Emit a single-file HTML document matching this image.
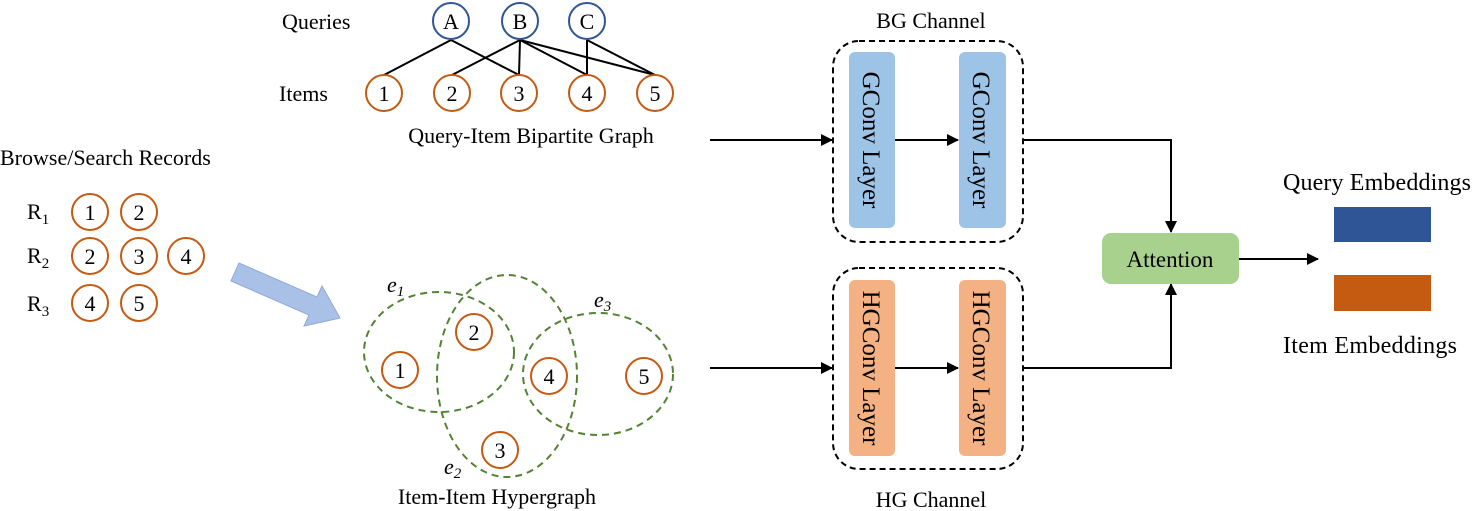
<!DOCTYPE html>
<html><head><meta charset="utf-8"><style>
html,body{margin:0;padding:0;background:#fff}
svg{display:block}
text{font-family:"Liberation Serif",serif;fill:#000}
</style></head><body>
<svg width="1476" height="511" viewBox="0 0 1476 511" xmlns="http://www.w3.org/2000/svg">
<defs>
<marker id="ah" markerWidth="12" markerHeight="12" refX="11" refY="6" orient="auto" markerUnits="userSpaceOnUse">
<path d="M0,0 L12,6 L0,12 z" fill="#000"/>
</marker>
</defs>
<g font-size="22">
<!-- Bipartite graph -->
<text x="282" y="29">Queries</text>
<text x="279" y="101">Items</text>
<g stroke="#000" stroke-width="2">
<line x1="451" y1="40" x2="384" y2="75"/>
<line x1="451" y1="40" x2="519" y2="75"/>
<line x1="520" y1="40" x2="452" y2="75"/>
<line x1="520" y1="40" x2="519" y2="75"/>
<line x1="520" y1="40" x2="587" y2="75"/>
<line x1="520" y1="40" x2="655" y2="75"/>
<line x1="587" y1="40" x2="587" y2="75"/>
<line x1="587" y1="40" x2="655" y2="75"/>
</g>
<g fill="#fff" stroke="#2f5597" stroke-width="2">
<circle cx="451" cy="21" r="18"/><circle cx="520" cy="21" r="18"/><circle cx="587" cy="21" r="18"/>
</g>
<g fill="#fff" stroke="#c55a11" stroke-width="2">
<circle cx="384" cy="93" r="18"/><circle cx="452" cy="93" r="18"/><circle cx="519" cy="93" r="18"/><circle cx="587" cy="93" r="18"/><circle cx="655" cy="93" r="18"/>
</g>
<g text-anchor="middle">
<text x="451" y="29">A</text><text x="520" y="29">B</text><text x="587" y="29">C</text>
<text x="384" y="101">1</text><text x="452" y="101">2</text><text x="519" y="101">3</text><text x="587" y="101">4</text><text x="655" y="101">5</text>
<text x="531" y="143">Query-Item Bipartite Graph</text>
</g>

<!-- Records -->
<text x="0" y="165">Browse/Search Records</text>
<text x="27" y="219">R<tspan font-size="15" dy="5">1</tspan></text>
<text x="27" y="263">R<tspan font-size="15" dy="5">2</tspan></text>
<text x="27" y="311">R<tspan font-size="15" dy="5">3</tspan></text>
<g fill="#fff" stroke="#c55a11" stroke-width="2">
<circle cx="90" cy="212" r="18"/><circle cx="139" cy="212" r="18"/>
<circle cx="90" cy="256" r="18"/><circle cx="139" cy="256" r="18"/><circle cx="186" cy="256" r="18"/>
<circle cx="90" cy="303" r="18"/><circle cx="139" cy="303" r="18"/>
</g>
<g text-anchor="middle">
<text x="90" y="220">1</text><text x="139" y="220">2</text>
<text x="90" y="264">2</text><text x="139" y="264">3</text><text x="186" y="264">4</text>
<text x="90" y="311">4</text><text x="139" y="311">5</text>
</g>
<polygon points="231,281 239,263 317,297 322,286 340,318 304,326 309,315" fill="#a9c1e6" stroke="#8faadc" stroke-width="1"/>

<!-- Hypergraph -->
<g fill="none" stroke="#548235" stroke-width="2" stroke-dasharray="7,5">
<ellipse cx="439" cy="352" rx="75" ry="60"/>
<ellipse cx="507" cy="376" rx="70" ry="101"/>
<ellipse cx="598" cy="374" rx="75" ry="61"/>
</g>
<g fill="#fff" stroke="#c55a11" stroke-width="2">
<circle cx="400" cy="370" r="18"/><circle cx="474" cy="332" r="18"/><circle cx="500" cy="450" r="18"/><circle cx="549" cy="376" r="18"/><circle cx="644" cy="376" r="18"/>
</g>
<g text-anchor="middle">
<text x="400" y="378">1</text><text x="474" y="340">2</text><text x="500" y="458">3</text><text x="549" y="384">4</text><text x="644" y="384">5</text>
<text x="497" y="504">Item-Item  Hypergraph</text>
</g>
<text x="387" y="292" font-style="italic">e<tspan font-size="15" dy="4">1</tspan></text>
<text x="594" y="307" font-style="italic">e<tspan font-size="15" dy="4">3</tspan></text>
<text x="444" y="474" font-style="italic">e<tspan font-size="15" dy="4">2</tspan></text>

<!-- Channels -->
<text x="931" y="28" text-anchor="middle">BG Channel</text>
<text x="931" y="507" text-anchor="middle">HG Channel</text>
<rect x="833" y="41" width="190" height="201" rx="26" fill="none" stroke="#000" stroke-width="2" stroke-dasharray="6,4"/>
<rect x="833" y="268" width="190" height="201" rx="26" fill="none" stroke="#000" stroke-width="2" stroke-dasharray="6,4"/>
<rect x="849" y="52" width="46" height="176" rx="6" fill="#9dc3e6"/>
<rect x="959" y="52" width="47" height="176" rx="6" fill="#9dc3e6"/>
<rect x="849" y="280" width="46" height="176" rx="6" fill="#f4b183"/>
<rect x="959" y="280" width="47" height="176" rx="6" fill="#f4b183"/>
<g font-size="25" text-anchor="middle">
<text transform="translate(872,140) rotate(90)" y="9">GConv Layer</text>
<text transform="translate(982,140) rotate(90)" y="9">GConv Layer</text>
<text transform="translate(872,368) rotate(90)" y="9">HGConv Layer</text>
<text transform="translate(982,368) rotate(90)" y="9">HGConv Layer</text>
</g>
<g stroke="#000" stroke-width="2" fill="none">
<line x1="710" y1="140" x2="832" y2="140" marker-end="url(#ah)"/>
<line x1="895" y1="140" x2="958" y2="140" marker-end="url(#ah)"/>
<line x1="710" y1="368" x2="832" y2="368" marker-end="url(#ah)"/>
<line x1="895" y1="368" x2="958" y2="368" marker-end="url(#ah)"/>
<polyline points="1023,140 1171,140 1171,232" marker-end="url(#ah)"/>
<polyline points="1023,368 1171,368 1171,284" marker-end="url(#ah)"/>
<line x1="1239" y1="259" x2="1318" y2="259" marker-end="url(#ah)"/>
</g>
<rect x="1102" y="233" width="137" height="51" rx="9" fill="#a9d18e"/>
<text x="1170" y="267" text-anchor="middle" font-size="23">Attention</text>

<text x="1283" y="190" font-size="24" textLength="188">Query Embeddings</text>
<rect x="1334" y="207" width="97" height="35" fill="#2f5597"/>
<rect x="1334" y="275" width="97" height="36" fill="#c55a11"/>
<text x="1283" y="353" font-size="24" textLength="174">Item Embeddings</text>
</g>
</svg>
</body></html>
